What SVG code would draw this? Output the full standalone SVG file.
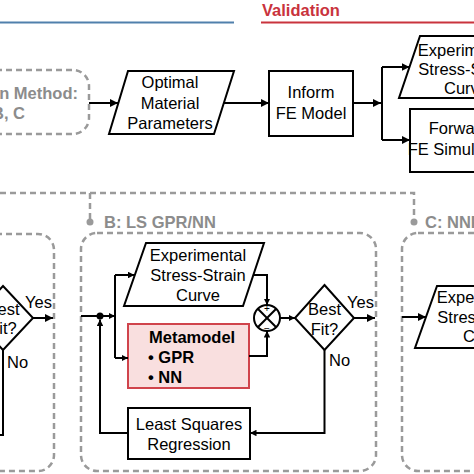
<svg xmlns="http://www.w3.org/2000/svg" width="474" height="474" viewBox="0 0 474 474">
<defs>
<marker id="ah" viewBox="0 0 10 10" refX="10" refY="5" markerWidth="8" markerHeight="8" markerUnits="userSpaceOnUse" orient="auto"><path d="M0,0 L10,5 L0,10 z" fill="#000"/></marker>
<marker id="ahs" viewBox="0 0 10 10" refX="10" refY="5" markerWidth="6.5" markerHeight="6.5" markerUnits="userSpaceOnUse" orient="auto"><path d="M0,0 L10,5 L0,10 z" fill="#000"/></marker>
</defs>
<style>
.t{font-family:"Liberation Sans",Arial,sans-serif;font-size:16.5px;fill:#000}
.c{text-anchor:middle}
.b{font-weight:bold}
.g{font-family:"Liberation Sans",Arial,sans-serif;font-size:16.5px;font-weight:bold;fill:#8c8c8c}
.n{fill:#fff;stroke:#000;stroke-width:2}
.dash{fill:none;stroke:#9a9a9a;stroke-width:2.5;stroke-dasharray:6 4}
.w{fill:none;stroke:#000;stroke-width:2}
</style>
<rect width="474" height="474" fill="#fff"/>
<line x1="0" y1="22.5" x2="234" y2="22.5" stroke="#5080ac" stroke-width="2"/>
<line x1="261" y1="22.5" x2="474" y2="22.5" stroke="#c9333d" stroke-width="2"/>
<text x="262" y="16" font-family="Liberation Sans,Arial,sans-serif" font-size="16.5" font-weight="bold" fill="#c9333d">Validation</text>

<g id="method">
<rect class="dash" x="-120" y="70" width="209" height="64" rx="16"/>
<text class="g" x="78" y="99" text-anchor="end">Optimization Method:</text>
<text class="g" x="25" y="119" text-anchor="end">A, B, C</text>
</g>
<g id="optimal">
<polygon class="n" points="128,71 234,71 214,134 109,134"/>
<text class="t c" x="170" y="88">Optimal</text>
<text class="t c" x="170" y="109">Material</text>
<text class="t c" x="170" y="129">Parameters</text>
</g>
<g id="inform">
<rect class="n" x="269" y="71" width="84" height="65"/>
<text class="t c" x="311" y="98">Inform</text>
<text class="t c" x="311" y="119">FE Model</text>
</g>
<g id="exp-top">
<polygon class="n" points="420,36 560,36 540,98 399,98"/>
<text class="t c" x="466" y="56">Experimental</text>
<text class="t c" x="466" y="75">Stress-Strain</text>
<text class="t c" x="466" y="94">Curve</text>
</g>
<g id="forward">
<rect class="n" x="410" y="109" width="110" height="63"/>
<text class="t c" x="459" y="134">Forward</text>
<text class="t c" x="459" y="155">FE Simulation</text>
</g>

<g id="boxA">
<rect class="dash" x="-300" y="234" width="354" height="237" rx="16"/>
<polygon class="n" points="3,286 33,318 3,350 -27,318"/>
<text class="t c" x="3" y="315">Best</text>
<text class="t c" x="3" y="334">Fit?</text>
<text class="t" x="25" y="308">Yes</text>
<text class="t" x="7" y="368">No</text>
</g>
<g id="boxB">
<rect class="dash" x="81" y="233" width="295" height="238" rx="16"/>
<circle cx="90" cy="222" r="3.5" fill="#9a9a9a"/>
<text class="g" x="104" y="228">B: LS GPR/NN</text>
</g>
<g id="boxC">
<rect class="dash" x="402" y="233" width="300" height="238" rx="16"/>
<circle cx="414" cy="222" r="3.5" fill="#9a9a9a"/>
<text class="g" x="425" y="228">C: NNR</text>
</g>
<g id="exp-b">
<polygon class="n" points="146,243 264,243 243,306 124,306"/>
<text class="t c" x="198" y="261">Experimental</text>
<text class="t c" x="198" y="281">Stress-Strain</text>
<text class="t c" x="198" y="301">Curve</text>
</g>
<g id="metamodel">
<rect x="128" y="324" width="121" height="64" fill="#f9dfdf" stroke="#d0444c" stroke-width="2"/>
<text class="t b" x="149" y="343">Metamodel</text>
<text class="t b" x="148" y="363">• GPR</text>
<text class="t b" x="148" y="383">• NN</text>
</g>
<g id="lsq">
<rect class="n" x="128" y="408" width="122" height="51"/>
<text class="t c" x="189" y="430">Least Squares</text>
<text class="t c" x="189" y="450">Regression</text>
</g>
<g id="sum">
<circle class="n" cx="267" cy="318" r="13"/>
<line class="w" x1="257.8" y1="308.8" x2="276.2" y2="327.2"/>
<line class="w" x1="276.2" y1="308.8" x2="257.8" y2="327.2"/>
<text x="267" y="312" font-family="Liberation Sans,Arial,sans-serif" font-size="10" text-anchor="middle">+</text>
<text x="267" y="332" font-family="Liberation Sans,Arial,sans-serif" font-size="10" text-anchor="middle">−</text>
</g>
<g id="bestB">
<polygon class="n" points="324.5,285 354,318 324.5,350 295,318"/>
<text class="t c" x="324.5" y="315">Best</text>
<text class="t c" x="324.5" y="335">Fit?</text>
<text class="t" x="347" y="308">Yes</text>
<text class="t" x="329" y="366">No</text>
</g>
<g id="exp-c">
<polygon class="n" points="437,286 580,286 558,348 415,348"/>
<text class="t c" x="485" y="303">Experimental</text>
<text class="t c" x="485" y="323">Stress-Strain</text>
<text class="t c" x="485" y="342">Curve</text>
</g>

<g id="connectors">
<path class="dash" d="M-10,193 H414 V220 M90,193 V220"/>
<line class="w" x1="89" y1="103" x2="118" y2="103" marker-end="url(#ah)"/>
<line class="w" x1="224" y1="103" x2="269" y2="103" marker-end="url(#ah)"/>
<line class="w" x1="353" y1="103" x2="381" y2="103" marker-end="url(#ah)"/>
<path class="w" d="M382,67 V140"/>
<line class="w" x1="382" y1="67" x2="409.5" y2="67" marker-end="url(#ah)"/>
<line class="w" x1="382" y1="140" x2="410" y2="140" marker-end="url(#ah)"/>
<line class="w" x1="33" y1="318" x2="53" y2="318" marker-end="url(#ah)"/>
<path class="w" d="M3,350 V435 H-10"/>
<line class="w" x1="81" y1="316" x2="115" y2="316" marker-end="url(#ahs)"/>
<circle cx="100" cy="316" r="3.5" fill="#000"/>
<path class="w" d="M115,275 V358"/>
<line class="w" x1="115" y1="275" x2="134.5" y2="275" marker-end="url(#ahs)"/>
<line class="w" x1="115" y1="358" x2="128" y2="358" marker-end="url(#ahs)"/>
<path class="w" d="M128,433 H100 V319.5" marker-end="url(#ahs)"/>
<path class="w" d="M253,275 H267 V305" marker-end="url(#ahs)"/>
<path class="w" d="M249,356 H267 V331" marker-end="url(#ahs)"/>
<line class="w" x1="280" y1="318" x2="295" y2="318" marker-end="url(#ahs)"/>
<line class="w" x1="354" y1="318" x2="375" y2="318" marker-end="url(#ah)"/>
<path class="w" d="M324.5,350 V433 H250" marker-end="url(#ahs)"/>
<line class="w" x1="402" y1="317" x2="426" y2="317" marker-end="url(#ah)"/>
</g>
</svg>
